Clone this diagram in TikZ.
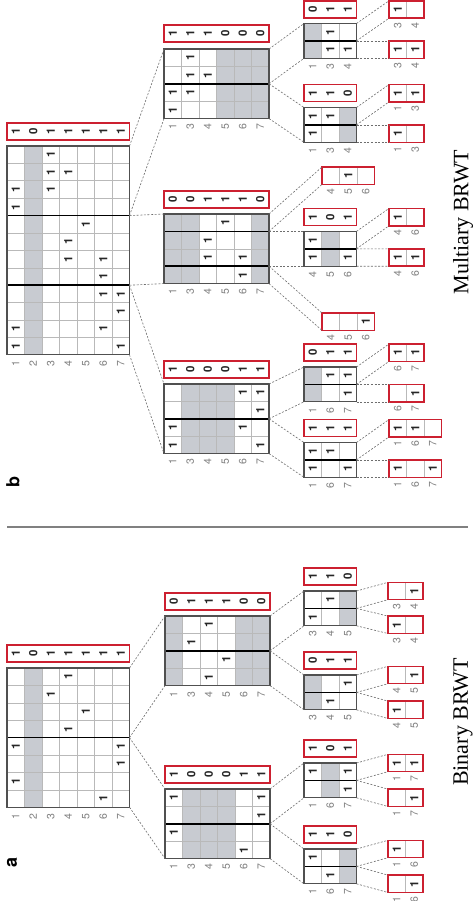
\documentclass[tikz,border=0pt]{standalone}
\usepackage{fontspec}
\setsansfont{TeX Gyre Heros}
\newfontfamily\serifT{Liberation Serif}
\definecolor{redb}{RGB}{204,32,48}
\definecolor{shadec}{RGB}{200,203,209}
\definecolor{gridc}{RGB}{185,185,185}
\definecolor{bordc}{RGB}{80,80,80}
\definecolor{labc}{RGB}{130,130,130}
\definecolor{connc}{RGB}{110,110,110}
\def\sx{17.5}
\def\sy{17.4}
\tikzset{
  one/.style={font=\sffamily\bfseries\fontsize{11.5}{11.5}\selectfont, text=black!85, rotate=90, inner sep=0pt},
  lab/.style={font=\sffamily\fontsize{10.5}{10.5}\selectfont, text=labc, rotate=90, inner sep=0pt},
  gridl/.style={draw=gridc, line width=0.6pt},
  bord/.style={draw=bordc, line width=1.3pt},
  thk/.style={draw=black, line width=1.7pt},
  redbox/.style={draw=redb, line width=1.5pt},
  conn/.style={draw=connc, line width=0.6pt, dash pattern=on 2pt off 1.6pt},
  divl/.style={draw=gray, line width=1.5pt},
  title/.style={rotate=90, font=\serifT\fontsize{22}{22}\selectfont, inner sep=0pt},
  panel/.style={rotate=90, font=\sffamily\bfseries\fontsize{18}{18}\selectfont, inner sep=0pt},
}
% #1 name #2 x0 #3 y0 #4 nc #5 nr #6 shaded cols (0 = none) #7 thick rows
\newcommand\Mat[7]{%
  \pgfmathsetmacro\Mw{#4*\sx}%
  \pgfmathsetmacro\Mh{#5*\sy}%
  \pgfmathtruncatemacro\Mnc{#4-1}%
  \pgfmathtruncatemacro\Mnr{#5-1}%
  \foreach \c in {#6}{\ifnum\c>0 \fill[shadec] (#2+\c*\sx-\sx,#3) rectangle ++(\sx,\Mh);\fi}
  \foreach \i in {1,...,\Mnc}{\draw[gridl] (#2+\i*\sx,#3) -- ++(0,\Mh);}
  \foreach \j in {1,...,\Mnr}{\draw[gridl] (#2,#3+\j*\sy) -- ++(\Mw,0);}
  \foreach \t in {#7}{\draw[thk] (#2,#3+\t*\sy) -- ++(\Mw,0);}
  \draw[bord] (#2,#3) rectangle ++(\Mw,\Mh);
  \coordinate (#1-tl) at (#2,#3);
  \coordinate (#1-bl) at (#2,#3+\Mh);
  \foreach \k in {0,...,#5}{\coordinate (#1-\k) at (#2+\Mw,#3+\k*\sy);}
}
\newcommand\Ones[4]{%
  \foreach \c/\r in {#4}{\node[one] (#1-o\c-\r) at (#2+\c*\sx-0.5*\sx,#3+\r*\sy-0.5*\sy) {1};}
}
\newcommand\Labs[4]{%
  \foreach \l [count=\i] in {#4}{\node[lab] (#1-l\i) at (#2+\i*\sx-0.5*\sx,#3) {\l};}
}
\newcommand\Bits[5]{%
  \draw[redbox] (#2,#3) rectangle ++(#4*\sx,17);
  \foreach \b [count=\i] in {#5}{\node[one] (#1-b\i) at (#2+\i*\sx-0.5*\sx,#3+8.5) {\b};}
}
% #1 name #2 x0 #3 ytop #4 nc #5 ones positions #6 labels
\newcommand\Leaf[6]{%
  \pgfmathtruncatemacro\Mnc{#4-1}%
  \fill[white] (#2,#3) rectangle ++(#4*\sx,\sy);
  \foreach \i in {1,...,\Mnc}{\draw[gridl] (#2+\i*\sx,#3) -- ++(0,\sy);}
  \draw[redbox] (#2,#3) rectangle ++(#4*\sx,\sy);
  \coordinate (#1-tl) at (#2,#3);
  \coordinate (#1-bl) at (#2,#3+\sy);
  \foreach \c in {#5}{\node[one] (#1-o\c) at (#2+\c*\sx-0.5*\sx,#3+0.5*\sy) {1};}
  \foreach \l [count=\i] in {#6}{\node[lab] (#1-l\i) at (#2+\i*\sx-0.5*\sx,#3+\sy+7) {\l};}
}
\begin{document}
\begin{tikzpicture}[x=1pt,y=-1pt]
\useasboundingbox (0,0) rectangle (474,901);
\fill[white] (0,0) rectangle (474,901);
% ================= Panel a =================
\Mat{RA}{7}{668}{7}{8}{2}{4}
\Ones{RA}{7}{668}{4/1,3/2,5/3,4/4,1/5,7/5,7/6,1/7,6/8}
\Bits{RA}{7}{645}{7}{1,0,1,1,1,1,1}
\Labs{RA}{7}{817}{1,2,3,4,5,6,7}

\Mat{A1}{165}{616}{6}{4}{1,5,6}{2}
\Ones{A1}{165}{616}{3/1,2/2,4/3,3/4}
\Bits{A1}{165}{593}{6}{0,1,1,1,0,0}
\Labs{A1}{165}{695}{1,3,4,5,6,7}

\Mat{A2}{165}{789}{6}{4}{2,3,4}{2}
\Ones{A2}{165}{789}{1/1,6/1,6/2,1/3,5/4}
\Bits{A2}{165}{766}{6}{1,0,0,0,1,1}
\Labs{A2}{165}{867}{1,3,4,5,6,7}

\Mat{A11}{304}{591}{3}{2}{3}{1}
\Ones{A11}{304}{591}{2/1,1/2}
\Bits{A11}{304}{568}{3}{1,1,0}
\Labs{A11}{304}{634}{3,4,5}

\Mat{A12}{304}{675}{3}{2}{1}{1}
\Ones{A12}{304}{675}{3/1,2/2}
\Bits{A12}{304}{652}{3}{0,1,1}
\Labs{A12}{304}{718}{3,4,5}

\Mat{A21}{304}{763}{3}{2}{2}{1}
\Ones{A21}{304}{763}{1/1,3/1,3/2}
\Bits{A21}{304}{740}{3}{1,0,1}
\Labs{A21}{304}{806}{1,6,7}

\Mat{A22}{304}{849}{3}{2}{3}{1}
\Ones{A22}{304}{849}{1/1,2/2}
\Bits{A22}{304}{826}{3}{1,1,0}
\Labs{A22}{304}{892}{1,6,7}

\Leaf{LA11a}{388}{582.3}{2}{2}{3,4}
\Leaf{LA11b}{388}{616.1}{2}{1}{3,4}
\Leaf{LA12a}{388}{666.3}{2}{2}{4,5}
\Leaf{LA12b}{388}{701.1}{2}{1}{4,5}
\Leaf{LA21a}{388}{754.3}{2}{1,2}{1,7}
\Leaf{LA21b}{388}{789.1}{2}{2}{1,7}
\Leaf{LA22a}{388}{840.3}{2}{1}{1,6}
\Leaf{LA22b}{388}{875.1}{2}{2}{1,6}

% ================= Panel b =================
\Mat{RB}{7}{146}{7}{12}{2}{4,8}
\Ones{RB}{7}{146}{3/1,3/2,4/2,1/3,3/3,1/4,5/5,4/6,4/7,6/7,6/8,6/9,7/9,7/10,1/11,6/11,1/12,7/12}
\Bits{RB}{7}{123}{7}{1,0,1,1,1,1,1}
\Labs{RB}{7}{364}{1,2,3,4,5,6,7}

\Mat{B1}{164}{49}{6}{4}{4,5,6}{2}
\Ones{B1}{164}{49}{2/1,2/2,3/2,1/3,2/3,1/4}
\Bits{B1}{164}{25}{6}{1,1,1,0,0,0}
\Labs{B1}{164}{127}{1,3,4,5,6,7}

\Mat{B2}{164}{214}{6}{4}{1,2,6}{1,3}
\Ones{B2}{164}{214}{4/1,3/2,3/3,5/3,5/4}
\Bits{B2}{164}{191}{6}{0,0,1,1,1,0}
\Labs{B2}{164}{292}{1,3,4,5,6,7}

\Mat{B3}{164}{384}{6}{4}{2,3,4}{2}
\Ones{B3}{164}{384}{5/1,6/1,6/2,1/3,5/3,1/4,6/4}
\Bits{B3}{164}{361}{6}{1,0,0,0,1,1}
\Labs{B3}{164}{462}{1,3,4,5,6,7}

\Mat{B11}{304}{23.5}{3}{2}{1}{1}
\Ones{B11}{304}{23.5}{2/1,2/2,3/2}
\Bits{B11}{304}{0.8}{3}{0,1,1}
\Labs{B11}{304}{67}{1,3,4}

\Mat{B12}{304}{107.5}{3}{2}{3}{1}
\Ones{B12}{304}{107.5}{1/1,2/1,1/2}
\Bits{B12}{304}{84.5}{3}{1,1,0}
\Labs{B12}{304}{151}{1,3,4}

\Mat{B22}{304}{231.4}{3}{2}{2}{1}
\Ones{B22}{304}{231.4}{1/1,1/2,3/2}
\Bits{B22}{304}{208.4}{3}{1,0,1}
\Labs{B22}{304}{275}{4,5,6}

\Mat{B31}{304}{367}{3}{2}{1}{1}
\Ones{B31}{304}{367}{2/1,3/1,3/2}
\Bits{B31}{304}{344}{3}{0,1,1}
\Labs{B31}{304}{410.5}{1,6,7}

\Mat{B32}{304}{442.5}{3}{2}{0}{1}
\Ones{B32}{304}{442.5}{1/1,2/1,1/2,3/2}
\Bits{B32}{304}{419.5}{3}{1,1,1}
\Labs{B32}{304}{486}{1,6,7}

\Leaf{LB11a}{389}{0.8}{2}{1}{3,4}
\Leaf{LB11b}{389}{40.9}{2}{1,2}{3,4}
\Leaf{LB12a}{389}{84.5}{2}{1,2}{1,3}
\Leaf{LB12b}{389}{124.9}{2}{1}{1,3}
\Leaf{LB21}{322}{167}{3}{2}{4,5,6}
\Leaf{LB22a}{389}{208.4}{2}{1}{4,6}
\Leaf{LB22b}{389}{248.8}{2}{1,2}{4,6}
\Leaf{LB23}{322}{313}{3}{3}{4,5,6}
\Leaf{LB31a}{389}{344}{2}{1,2}{6,7}
\Leaf{LB31b}{389}{384.4}{2}{2}{6,7}
\Leaf{LB32a}{389}{419.5}{3}{1,2}{1,6,7}
\Leaf{LB32b}{389}{459.9}{3}{1,3}{1,6,7}

% ================= connectors =================
\foreach \p/\q in {RA-0/A1-tl, RA-4/A1-bl, RA-4/A2-tl, RA-8/A2-bl,
  A1-0/A11-tl, A1-2/A11-bl, A1-2/A12-tl, A1-4/A12-bl,
  A2-0/A21-tl, A2-2/A21-bl, A2-2/A22-tl, A2-4/A22-bl,
  A11-0/LA11a-tl, A11-1/LA11a-bl, A11-1/LA11b-tl, A11-2/LA11b-bl,
  A12-0/LA12a-tl, A12-1/LA12a-bl, A12-1/LA12b-tl, A12-2/LA12b-bl,
  A21-0/LA21a-tl, A21-1/LA21a-bl, A21-1/LA21b-tl, A21-2/LA21b-bl,
  A22-0/LA22a-tl, A22-1/LA22a-bl, A22-1/LA22b-tl, A22-2/LA22b-bl,
  RB-0/B1-tl, RB-4/B1-bl, RB-4/B2-tl, RB-8/B2-bl, RB-8/B3-tl, RB-12/B3-bl,
  B1-0/B11-tl, B1-2/B11-bl, B1-2/B12-tl, B1-4/B12-bl,
  B2-0/LB21-tl, B2-1/LB21-bl, B2-1/B22-tl, B2-3/B22-bl, B2-3/LB23-tl, B2-4/LB23-bl,
  B3-0/B31-tl, B3-2/B31-bl, B3-2/B32-tl, B3-4/B32-bl,
  B11-0/LB11a-tl, B11-1/LB11a-bl, B11-1/LB11b-tl, B11-2/LB11b-bl,
  B12-0/LB12a-tl, B12-1/LB12a-bl, B12-1/LB12b-tl, B12-2/LB12b-bl,
  B22-0/LB22a-tl, B22-1/LB22a-bl, B22-1/LB22b-tl, B22-2/LB22b-bl,
  B31-0/LB31a-tl, B31-1/LB31a-bl, B31-1/LB31b-tl, B31-2/LB31b-bl,
  B32-0/LB32a-tl, B32-1/LB32a-bl, B32-1/LB32b-tl, B32-2/LB32b-bl}
  {\draw[conn] (\p) -- (\q);}

% ================= texts =================
\draw[divl] (7,527) -- (468,527);
\node[panel] (pa) at (12,862) {a};
\node[panel] (pb) at (13,482) {b};
\node[title] (ta) at (463,722) {Binary BRWT};
\node[title] (tb) at (463,222) {Multiary BRWT};
\end{tikzpicture}
\end{document}
